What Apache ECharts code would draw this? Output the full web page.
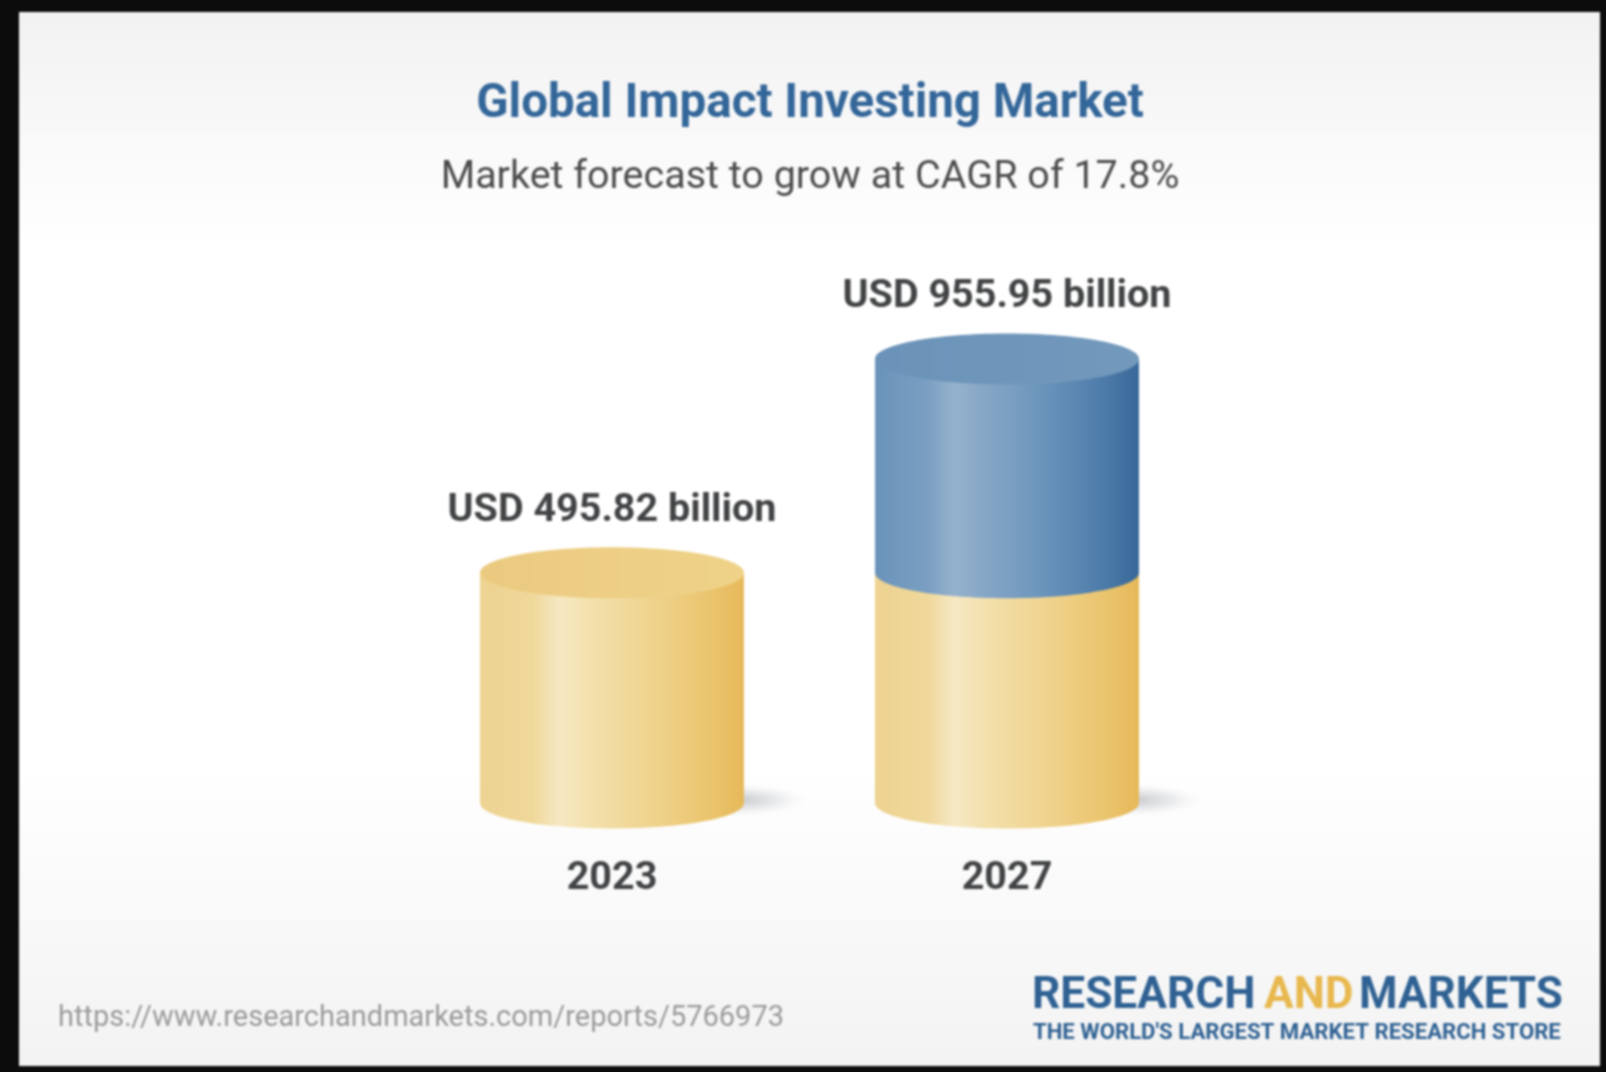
<!DOCTYPE html>
<html><head><meta charset="utf-8">
<style>html,body{margin:0;padding:0;background:#0c0c0c;overflow:hidden}#c{width:1606px;height:1072px;filter:blur(0.8px)}</style>
<script src="https://cdn.jsdelivr.net/npm/echarts@6/dist/echarts.min.js"></script>
</head><body><div id="c"></div>
<script>
const categories = ['2023', '2027'];
const baseValues = [495.82, 495.82];
const totalValues = [495.82, 955.95];
const valueLabels = ['USD 495.82 billion', 'USD 955.95 billion'];
const titleText = 'Global Impact Investing Market';
const subtitleText = 'Market forecast to grow at CAGR of 17.8%';
const sourceText = 'https://www.researchandmarkets.com/reports/5766973';

const FONT = 'Roboto, sans-serif';
const RY = 25.5;
function grad(stops){return {type:'linear',x:0,y:0,x2:1,y2:0,colorStops:stops.map(s=>({offset:s[0],color:s[1]}))};}
const yellowBody = grad([[0,'#eed391'],[0.2,'#f0d89b'],[0.3,'#f6e8c3'],[0.42,'#f3e0ac'],[0.62,'#f0d592'],[0.85,'#ebc671'],[1,'#e6b95a']]);
const yellowTop = grad([[0,'#ebca80'],[1,'#efd389']]);
const blueBody = grad([[0,'#6a93ba'],[0.2,'#7a9fc2'],[0.3,'#95b2cc'],[0.42,'#86a6c6'],[0.6,'#6f98bd'],[0.85,'#4f7dab'],[1,'#386899']]);
const blueTop = grad([[0,'#6b93b9'],[1,'#7399bc']]);

function cylinder(body, top, showTop, showShadow, labels){
  return function(params, api){
    const i = api.value(0);
    const a = api.coord([i, api.value(1)]);
    const b = api.coord([i, api.value(2)]);
    const w = api.size([1,0])[0] * 264 / 395;
    const rx = w/2, cx = a[0];
    const kids = [];
    if (showShadow) {
      kids.push({type:'circle',x:cx+rx-6,y:a[1]-3,scaleX:4.3,scaleY:1,shape:{cx:0,cy:0,r:18},
        style:{fill:{type:'radial',x:0.5,y:0.5,r:0.5,colorStops:[{offset:0,color:'rgba(120,125,135,0.42)'},{offset:0.5,color:'rgba(150,155,165,0.2)'},{offset:1,color:'rgba(255,255,255,0)'}]}}});
    }
    kids.push({type:'ellipse',shape:{cx:cx,cy:a[1],rx:rx,ry:RY},style:{fill:body}});
    kids.push({type:'rect',shape:{x:cx-rx,y:b[1],width:w,height:a[1]-b[1]},style:{fill:body}});
    if (showTop) kids.push({type:'ellipse',shape:{cx:cx,cy:b[1],rx:rx,ry:RY},style:{fill:top}});
    if (labels && labels[i]) kids.push({type:'text',style:{x:cx,y:b[1]-62,text:labels[i],fill:'#414345',font:'bold 39.5px '+FONT,align:'center',verticalAlign:'middle'}});
    return {type:'group',children:kids};
  };
}

const chart = echarts.init(document.getElementById('c'), null, {renderer:'canvas'});
const T = (x,y,text,font,fill,align) => ({type:'text',x:x,y:y,style:{text:text,font:font,fill:fill,align:align||'left',verticalAlign:'middle'},z:5});
chart.setOption({
  animation:false,
  backgroundColor:'#0c0c0c',
  graphic:[
    {type:'rect',shape:{x:19,y:12,width:1581,height:1054},z:-1,
     style:{fill:{type:'linear',x:0,y:0,x2:0,y2:1,colorStops:[{offset:0,color:'#f2f2f2'},{offset:0.22,color:'#ffffff'},{offset:0.72,color:'#ffffff'},{offset:1,color:'#f3f3f3'}]}}},
    T(1032,996.5,'RESEARCH','bold 44.2px '+FONT,'#2f6193'),
    T(1264,996.5,'AND','bold 44.2px '+FONT,'#e8b84f'),
    T(1359,996.5,'MARKETS','bold 44px '+FONT,'#2f6193'),
    T(1033,1033,"THE WORLD'S LARGEST MARKET RESEARCH STORE",'bold 22.15px '+FONT,'#2f6193'),
    T(58,1019,sourceText,'29px '+FONT,'#9a9a9a')
  ],
  title:{show:true,text:titleText,subtext:subtitleText,left:805,top:69,textAlign:'center',
    textStyle:{fontFamily:FONT,fontWeight:'bold',fontSize:47.5,color:'#336699',lineHeight:62},
    subtextStyle:{fontFamily:FONT,fontWeight:400,fontSize:39.5,color:'#4c4c4c',lineHeight:46},itemGap:19},
  grid:{left:414.5,width:790,top:338.5,bottom:269,containLabel:false},
  xAxis:{type:'category',data:categories,axisLine:{show:false},axisTick:{show:false},
    axisLabel:{fontFamily:FONT,fontWeight:'bold',fontSize:39.5,color:'#414345',margin:56.5}},
  yAxis:{type:'value',min:0,max:1000,show:false,splitLine:{show:false}},
  series:[
    {type:'custom',name:'Base',coordinateSystem:'cartesian2d',clip:false,
     data:categories.map((c,i)=>[i,0,baseValues[i]]),
     encode:{x:0,y:[1,2]},
     renderItem:function(p,api){
       const i=api.value(0);
       return cylinder(yellowBody,yellowTop,totalValues[i]<=baseValues[i],true,totalValues[i]<=baseValues[i]?valueLabels:null)(p,api);
     }},
    {type:'custom',name:'Growth',coordinateSystem:'cartesian2d',clip:false,
     data:categories.map((c,i)=>[i,baseValues[i],totalValues[i]]).filter(d=>d[2]>d[1]),
     encode:{x:0,y:[1,2]},
     renderItem:cylinder(blueBody,blueTop,true,false,valueLabels)}
  ]
});
</script></body></html>
